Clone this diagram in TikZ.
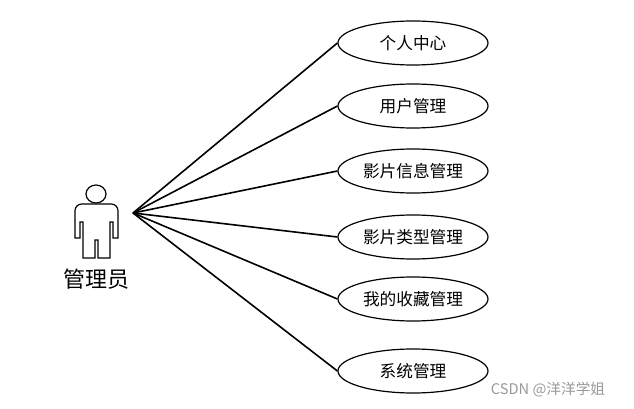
\documentclass[tikz,border=0pt]{standalone}
\usepackage{fontspec}
\usetikzlibrary{shapes.geometric}
\newfontfamily\cjk{Noto Sans CJK SC}
\begin{document}
\begin{tikzpicture}[x=0.75pt,y=-0.75pt,
  uc/.style={draw,line width=0.9pt,ellipse,minimum width=112.5pt,minimum height=33pt,inner sep=0pt,font=\cjk\fontsize{12.5}{14}\selectfont},
  link/.style={line width=1.2pt}]
\useasboundingbox (0,0) rectangle (634,409);
\node[uc] (u1) at (413,43) {个人中心};
\node[uc] (u2) at (413,106) {用户管理};
\node[uc] (u3) at (413,171) {影片信息管理};
\node[uc] (u4) at (413,237) {影片类型管理};
\node[uc] (u5) at (413,299) {我的收藏管理};
\node[uc] (u6) at (413,371) {系统管理};
\coordinate (a) at (133,213);
\foreach \i in {1,...,6} \draw[link] (a) -- (u\i.west);
\draw[line width=0.9pt] (96,194) ellipse [x radius=10, y radius=9];
\draw[line width=0.9pt] (83,222) -- (83,258) -- (95,258) -- (95,240) -- (98,240) -- (98,258) -- (110,258) -- (110,222)
  -- (113,222) -- (113,238) -- (118,238) [rounded corners=5] -- (118,204) -- (75,204) [sharp corners] -- (75,238) -- (80,238) -- (80,222) -- cycle;
\node[font=\cjk\fontsize{16.5}{18}\selectfont] (lbl) at (96,279) {管理员};
\node[font=\cjk\fontsize{11}{12}\selectfont,text=gray!80] (wm) at (548,390) {CSDN @洋洋学姐};
\end{tikzpicture}
\end{document}
